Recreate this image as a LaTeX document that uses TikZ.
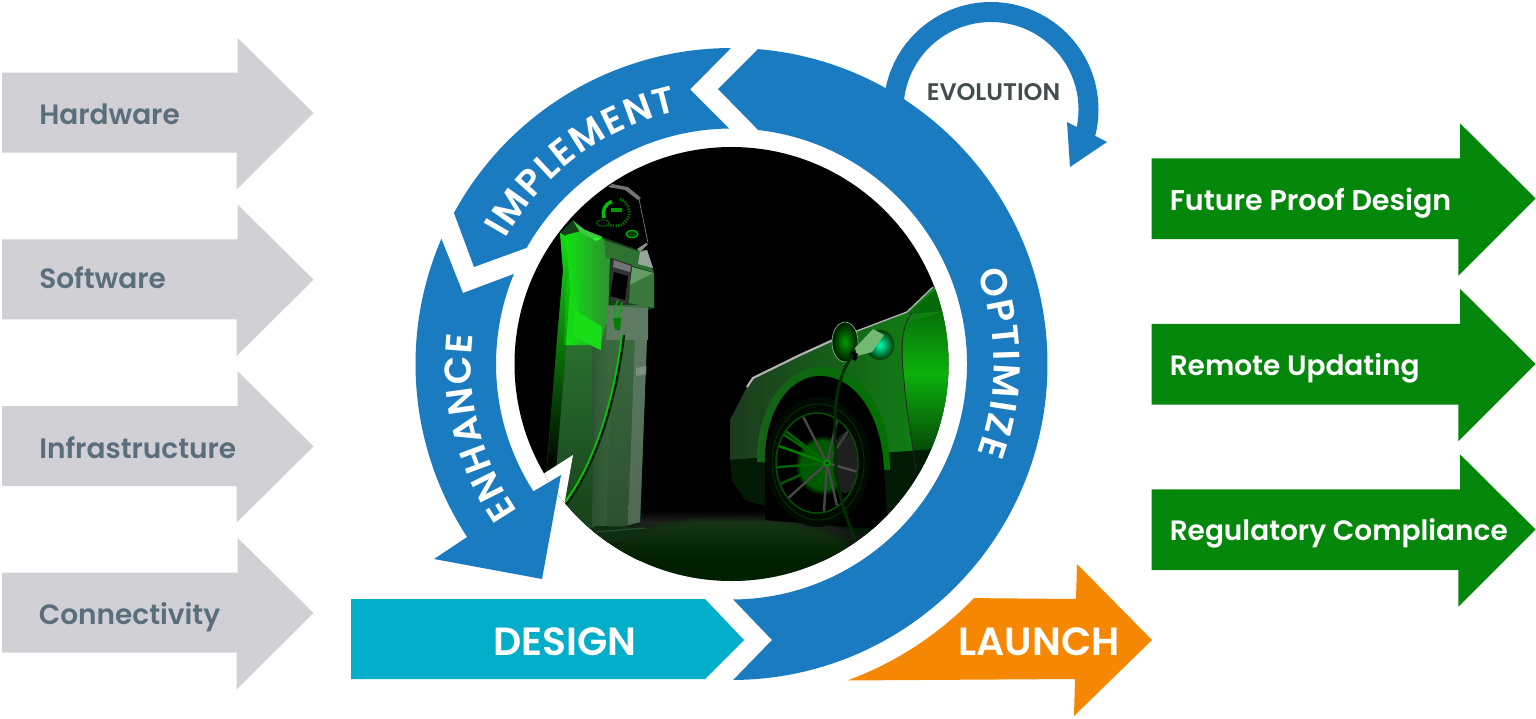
\documentclass[tikz,border=0pt]{standalone}
\usepackage{fontspec}
\usetikzlibrary{calc,decorations.text,fadings}
\setmainfont{Poppins}[UprightFont=* SemiBold,BoldFont=* Bold]
\newfontfamily\ringfont{Poppins}[UprightFont=* SemiBold]
\definecolor{ringblue}{HTML}{1B7BC1}
\definecolor{designcyan}{HTML}{02AEC9}
\definecolor{launchorange}{HTML}{F58703}
\definecolor{outgreen}{HTML}{05870B}
\definecolor{ingrey}{HTML}{D0D0D5}
\definecolor{inlabel}{HTML}{5B6E7B}
\definecolor{evolabel}{HTML}{434D4E}
\definecolor{strip}{HTML}{5F7A62}
\definecolor{faceA}{HTML}{3D6E42}
\definecolor{faceB}{HTML}{2C4E30}
\definecolor{faceC}{HTML}{2A7030}
\definecolor{faceD}{HTML}{16401A}
\definecolor{bright}{HTML}{12E012}
\definecolor{midg}{HTML}{2F8F33}
\definecolor{doorhi}{HTML}{0CB00C}
\definecolor{doortop}{HTML}{066A0A}
\definecolor{doorlow}{HTML}{064A08}
\definecolor{sill}{HTML}{031A05}
\definecolor{fenderL}{HTML}{1C3A1E}
\definecolor{fenderR}{HTML}{0F8E12}
\tikzset{
  blue shape/.style={fill=ringblue},
  grey arrow/.style={fill=ingrey},
  green arrow/.style={fill=outgreen},
  grey label/.style={anchor=base west,inner sep=0pt,text=inlabel,font=\fontsize{21}{24}\selectfont},
  green label/.style={anchor=base west,inner sep=0pt,text=white,font=\fontsize{21}{24}\selectfont},
  big label/.style={anchor=base,inner sep=0pt,text=white,font=\fontsize{29.5}{32}\selectfont},
  ring text/.style={decorate,decoration={text along path,text align=fit to path,
     text={|\fontsize{28}{32}\ringfont\color{white}|#1}}},
  glow/.style={path fading=circle with fuzzy edge 20 percent},
}
\begin{document}
\begin{tikzpicture}[x=0.75pt,y=-0.75pt]
\useasboundingbox (0,0) rectangle (1536,718);
\coordinate (c) at (731.5,364);
\coordinate (ev) at (991,109.5);

% input arrows
\foreach \dy in {0,166.67,333.33,500}{
 \fill[grey arrow,shift={(0,\dy)}] (2,72.7) -- (237.7,72.7) -- (237.7,38) -- (313.5,113) -- (236.5,189.5) -- (236.5,152.7) -- (2,152.7) -- cycle;
}
\node[grey label] (hw) at (39,124) {Hardware};
\node[grey label] (sw) at (39,288) {Software};
\node[grey label] (inf) at (39,458) {Infrastructure};
\node[grey label] (con) at (38.5,624) {Connectivity};

% output arrows
\foreach \dy in {0,165.5,331}{
 \fill[green arrow,shift={(0,\dy)}] (1151.7,158.3) -- (1460,158.3) -- (1460,123.3) -- (1535.7,198.5) -- (1458.3,275.7) -- (1458.3,239) -- (1151.7,239) -- cycle;
}
\node[green label,font=\fontsize{21.4}{24}\selectfont] (fp) at (1169.5,210) {Future Proof Design};
\node[green label] (ru) at (1169.5,375) {Remote Updating};
\node[green label] (rc) at (1169.5,540.5) {Regulatory Compliance};

% picture in the middle
\begin{scope}
 \clip (c) circle [radius=217];
 \fill[black] (c) circle [radius=218];
 % floor
 \shade[top color=black,bottom color=black!88!white] (520,510) rectangle (960,522);
 \shade[top color=black!88!white,bottom color=black] (520,522) rectangle (960,560);
 \fill[green!45!black,glow,opacity=.28] (590,515) rectangle (870,590);

 % charger: whole silhouette
 \fill[faceD] (573,220) -- (585,230) -- (603,237) -- (638,250) -- (647,250) -- (654,272) -- (654,308) -- (648,310) -- (640,522) -- (596,534) -- (546,475) -- (557,340) -- (563,270) -- (560,233) -- cycle;
 % lower faces
 \shade[top color=faceC,bottom color=faceD] (565,340) -- (600,340) -- (596,534) -- (552,500) -- cycle;
 \shade[top color=faceA,bottom color=faceB] (597,305) -- (648,305) -- (640,522) -- (592,535) -- cycle;
 \shade[left color=faceB,right color=faceA,opacity=.5] (592,345) -- (612,345) -- (606,532) -- (592,535) -- cycle;
 \shade[top color=strip,bottom color=strip!85!black] (636,310) -- (648,310) -- (640,522) -- (628,525) -- cycle;
 \fill[white,opacity=.2] (636,368) -- (647,366) -- (646.5,374) -- (636,376) -- cycle;
 % left glowing strip
 \shade[top color=bright,middle color=green!70!black,bottom color=black] (560,233) -- (572,240) -- (572,300) -- (566,350) -- (556,470) -- (547,470) -- (557,340) -- (563,270) -- cycle;
 % upper glowing face
 \shade[left color=bright,right color=midg] (566,235) -- (585,230) -- (605,240) -- (610,258) -- (608,318) -- (600,345) -- (566,345) -- (570,290) -- cycle;
 \fill[bright,opacity=.35] (566,280) -- (578,285) -- (578,345) -- (564,345) -- cycle;
 % bright facet
 \fill[green!85!black!90!white] (575,310) -- (602,327) -- (601,350) -- (573,337) -- cycle;
 \fill[green!70!white!80!black] (573,221) -- (585,230) -- (603,237) -- (597,240) -- (587,236) -- (580,232) -- cycle;
 \fill[green!85!white] (592,238) -- (602,238) -- (596,241) -- cycle;
 % grey-green part beside the socket
 \fill[strip!70!green!70!black] (604,240) -- (640,252) -- (647,250) -- (653,272) -- (632,266) -- (612,258) -- (606,258) -- cycle;
 % side block by the socket
 \fill[green!35!black!60!white] (632,267) -- (654,273) -- (630,285) -- cycle;
 \fill[midg!75!black!90!white] (630,285) -- (654,273) -- (654,308) -- (629,303) -- cycle;
 \fill[black!25!white!60!strip] (640,252) -- (647,250) -- (653,268) -- (638,264) -- cycle;
 \fill[strip] (608,306) -- (648,308) -- (648,340) -- (606,340) -- cycle;
 % socket
 \fill[black!80] (612,258) -- (632,265) -- (627,304) -- (609,300) -- cycle;
 \fill[black] (614,272) -- (628,276) -- (625,300) -- (610,296) -- cycle;
 \fill[black!55] (614,260) -- (631,266) -- (630,272) -- (613,267) -- cycle;
 % head panel
 \fill[black] (588,203) -- (608,187) -- (625,190) -- (638,200) -- (646,243) -- (637,249) -- (603,237) -- (586,229) -- cycle;
 \fill[black!55!white] (608,187) -- (612,184) -- (628,187) -- (641,198) -- (638,200) -- (625,190) -- cycle;
 \draw[black!50!white,line width=.5pt] (639,199) -- (648,243);
 \fill[black!45!white] (637,249) -- (646,243) -- (648,244) -- (640,252) -- cycle;
 \draw[green!75!black,line width=2.6pt] (604,218) arc [start angle=160,end angle=250,radius=13];
 \draw[green!45!black,line width=2.2pt,dash pattern=on 1pt off 1pt] (620,199) arc [start angle=-70,end angle=120,radius=14];
 \fill[green!60!black] (611,208) rectangle (622,212);
 \draw[green!40!black,line width=.7pt] (603,223) ellipse [x radius=6.5,y radius=3.2];
 \draw[green!70!black,line width=.9pt,fill=green!25!black] (632,234) ellipse [x radius=6,y radius=3.6];
 % base of the charger
 \fill[faceD!70!black] (596,526) -- (645,527) -- (645,538) -- (598,544) -- (580,535) -- cycle;
 \draw[faceB,line width=.8pt] (595,532) -- (645,528);
 % cables on the charger
 \draw[green!70!black,line width=1pt] (618,300) .. controls (610,315) and (618,330) .. (622,302);
 \fill[green!50!black] (613,318) -- (621,318) -- (620,330) -- (615,330) -- cycle;
 \draw[green!80!black,line width=1.6pt] (622,335) .. controls (612,420) and (585,480) .. (560,508);
 \draw[green!10!black,line width=1.7pt] (624,335) .. controls (614,420) and (587,480) .. (562,510);

 % car body
 \shade[left color=fenderL,right color=fenderR] (730,420) -- (747,387) -- (753,378) -- (800,355) -- (833,340) -- (907,312) -- (933,287) -- (960,270) -- (960,448) -- (883,453) -- (757,458) -- (730,460) -- cycle;
 \fill[doortop] (907,314) -- (936,290) -- (960,280) -- (960,310) -- cycle;
 \shade[top color=doortop,bottom color=doorhi] (904,325) -- (960,305) -- (960,373) -- (903,373) -- cycle;
 \shade[top color=doorhi,bottom color=doorlow] (903,373) -- (960,373) -- (960,448) -- (913,451) -- cycle;
 \fill[sill] (730,460) -- (757,458) -- (883,453) -- (960,447) -- (960,560) -- (880,540) -- (745,500) -- (732,480) -- cycle;
 % top highlight
 \draw[black!30!white,line width=1.6pt] (747,387) -- (753,378) -- (800,355) -- (833,340);
 \draw[black!30!white,line width=1pt] (833,340) -- (907,312) -- (933,287);
 % fender arch
 \shade[left color=fenderL!80!green,right color=green!45!black] (757,462) .. controls (757,400) and (790,367) .. (823,367) .. controls (860,367) and (890,410) .. (890,470) -- cycle;
 \fill[black] (765,520) -- (765,460) .. controls (765,410) and (790,376) .. (820,376) .. controls (855,376) and (882,415) .. (884,470) -- (888,530) -- cycle;
 % wheel
 \fill[green!4!black] (818,462) ellipse [x radius=52,y radius=65];
 \draw[green!18!black,line width=.7pt] (818,462) ellipse [x radius=46,y radius=58];
 \fill[black] (817,463) ellipse [x radius=41,y radius=50];
 \fill[green!60!black,glow,opacity=.6] (795,435) rectangle (850,495);
 \fill[black!88] (845,463) ellipse [x radius=12,y radius=30];
 \draw[green!32!black,line width=1.1pt] (817,463) ellipse [x radius=41,y radius=50];
 \coordinate (rim) at (817,463);
 \coordinate (hub) at (827,463);
 \foreach \a/\cl in {175/green!40!black,155/green!35!black,135/black!72,80/black!72,60/black!72,10/black!70,-40/black!75,-60/black!72,-110/black!72,-140/green!40!black,-160/green!50!black,215/green!40!black}{
  \draw[\cl,line width=1.8pt] (hub) -- ($(rim)+(\a:40 and 49)$);
 }
 \fill[green!55!black] (hub) circle [radius=4];
 \fill[black] (hub) circle [radius=1.5];
 % door line
 \draw[black!85,line width=.6pt] (912,313) .. controls (902,325) and (900,345) .. (904,380) .. controls (906,410) and (912,440) .. (916,470);
 % fuel door
 \shade[inner color=green!60!black,outer color=green!10!black] (845,342) ellipse [x radius=13,y radius=20];
 \draw[black!40!green!40!white,line width=.4pt] (845,342) ellipse [x radius=13,y radius=20];
 % socket with plug
 \shade[inner color=cyan!70!green,outer color=green!22!black] (880,345) ellipse [x radius=14,y radius=15];
 \fill[green!50!black!55!white] (855,348) -- (873,329) -- (884,335) -- (872,352) -- (857,356) -- cycle;
 \fill[black] (851,350) -- (858,354) -- (856,361) -- (850,358) -- cycle;
 % charging cable
 \draw[green!18!black,line width=2.2pt] (853,355) .. controls (830,385) and (835,430) .. (836,465) .. controls (838,500) and (848,520) .. (855,540);

 % white notch around the tip of ENHANCE
 \fill[white] (540,476) -- (573,455) -- (564,506) -- cycle;
\end{scope}

% ring segments
\fill[blue shape] ([shift={(89.7:316)}]c) arc [start angle=89.7,end angle=-85.2,radius=316] -- (718,89) -- ([shift={(-83.5:235.5)}]c) arc [start angle=-83.5,end angle=89.6,radius=235.5] -- (772,640) -- cycle;
\fill[blue shape] ([shift={(-90.1:316)}]c) arc [start angle=-90.1,end angle=-151.45,radius=316] -- (474,267) -- ([shift={(-150.44:235.5)}]c) arc [start angle=-150.44,end angle=-90.6,radius=235.5] -- (690,89.5) -- cycle;
\fill[blue shape] ([shift={(-156.65:316)}]c) arc [start angle=-156.65,end angle=-213.2,radius=316] -- (434,559) -- (542,579) -- (561,475) -- ([shift={(-212.74:235.5)}]c) arc [start angle=-212.74,end angle=-157.52,radius=235.5] -- (463,293) -- cycle;

% evolution arrow
\fill[blue shape] ([shift={(-167.8:107.5)}]ev) arc [start angle=-167.8,end angle=14.2,radius=107.5] -- (1107,142) -- (1070,167) -- (1067,122) -- ([shift={(11.5:87.5)}]ev) arc [start angle=11.5,end angle=-172.4,radius=87.5] -- (905,115) -- (887,105) -- cycle;

% design and launch
\fill[designcyan] (351,599) -- (705,599) -- (744,640) -- (705,679) -- (351,679) -- cycle;
\fill[launchorange] ([shift={(69.9:337)}]c) arc [start angle=69.9,end angle=44,radius=337] -- (1076,599) -- (1077,564) -- (1152,640) -- (1074,716) -- (1075,679) -- cycle;

% ring labels
\path[ring text=OPTIMIZE] ([shift={(-20.5:262)}]c) arc [start angle=-20.5,end angle=20,radius=262];
\path[ring text=IMPLEMENT] ([shift={(-151:258)}]c) arc [start angle=-151,end angle=-102,radius=258];
\path[ring text=ENHANCE] ([shift={(145.5:260)}]c) arc [start angle=145.5,end angle=186.5,radius=260];

\node[big label] (design) at (565,655) {DESIGN};
\node[big label] (launch) at (1039,655) {LAUNCH};
\node[anchor=base,inner sep=0pt,text=evolabel,font=\fontsize{18}{20}\selectfont] (evo) at (993.5,100) {EVOLUTION};
\end{tikzpicture}
\end{document}
